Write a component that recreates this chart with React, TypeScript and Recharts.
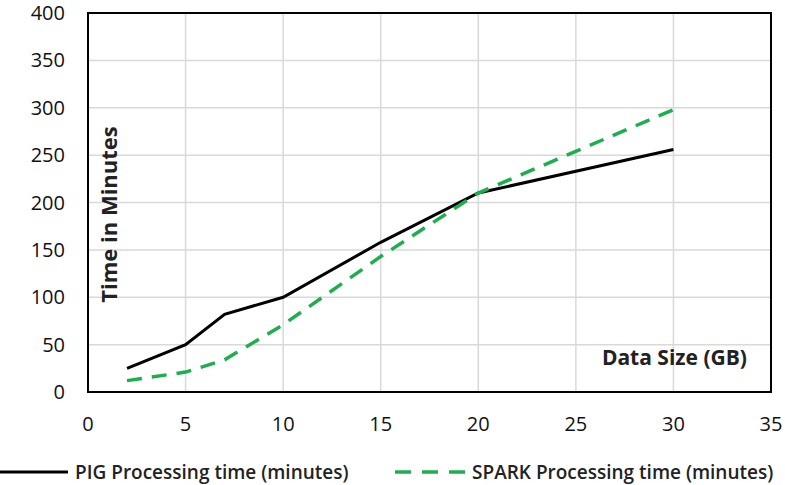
import React from "react";
import {
  LineChart,
  Line,
  XAxis,
  YAxis,
  CartesianGrid,
  ReferenceArea,
  Label,
  Legend,
} from "recharts";

const dataSize = [2, 5, 7, 10, 15, 20, 30];
const pigMinutes = [25, 50, 82, 100, 158, 210, 256];
const sparkMinutes = [12, 21, 34, 71, 143, 210, 298];
const xTicks = [0, 5, 10, 15, 20, 25, 30, 35];
const yTicks = [0, 50, 100, 150, 200, 250, 300, 350, 400];

const data = dataSize.map((size, i) => ({
  size,
  pig: pigMinutes[i],
  spark: sparkMinutes[i],
}));

const FONT = "'Open Sans', sans-serif";
const GREEN = "#1fae4f";

function YTitle({ viewBox }: any) {
  const cx = viewBox.x + 20;
  const cy = viewBox.y + viewBox.height / 2 + 12;
  return (
    <text
      x={cx}
      y={cy}
      transform={`rotate(-90 ${cx} ${cy})`}
      textAnchor="middle"
      dominantBaseline="central"
      fontFamily={FONT}
      fontWeight={700}
      fontSize={22}
      fill="#222"
    >
      Time in Minutes
    </text>
  );
}

function LegendBox() {
  const text = { fontFamily: FONT, fontSize: 19, fontWeight: 600, color: "#222" };
  return (
    <div style={{ position: "relative", height: 28 }}>
      <div style={{ position: "absolute", left: 0, top: 0, display: "flex", alignItems: "center" }}>
        <svg width={70} height={28}>
          <line x1={0} y1={14} x2={68} y2={14} stroke="#000" strokeWidth={3} />
        </svg>
        <span style={{ ...text, marginLeft: 5 }}>PIG Processing time (minutes)</span>
      </div>
      <div style={{ position: "absolute", left: 395, top: 0, display: "flex", alignItems: "center" }}>
        <svg width={76} height={28}>
          <line x1={0} y1={14} x2={76} y2={14} stroke={GREEN} strokeWidth={3.5} strokeDasharray="16 11" />
        </svg>
        <span style={{ ...text, marginLeft: 1 }}>SPARK Processing time (minutes)</span>
      </div>
    </div>
  );
}

export default function App() {
  return (
    <div style={{ position: "absolute", left: 0, top: 0, background: "#fff" }}>
      <LineChart
        width={785}
        height={485}
        data={data}
        margin={{ top: 13, right: 14, bottom: 53, left: 0 }}
      >
        <CartesianGrid stroke="#d9d9d9" strokeWidth={1.5} />
        <XAxis
          dataKey="size"
          type="number"
          domain={[0, 35]}
          ticks={xTicks}
          height={40}
          axisLine={false}
          tickLine={false}
          tickSize={0}
          tickMargin={25}
          tick={{ fill: "#111", fontSize: 20, fontWeight: 500, fontFamily: FONT }}
        />
        <YAxis
          type="number"
          domain={[0, 400]}
          ticks={yTicks}
          width={88}
          axisLine={false}
          tickLine={false}
          tickSize={0}
          tickMargin={23}
          tick={{ fill: "#111", fontSize: 20, fontWeight: 500, fontFamily: FONT }}
        />
        <Line
          type="linear"
          dataKey="pig"
          stroke="#000"
          strokeWidth={3}
          dot={false}
          isAnimationActive={false}
        />
        <Line
          type="linear"
          dataKey="spark"
          stroke={GREEN}
          strokeWidth={3.5}
          strokeDasharray="15 10"
          dot={false}
          isAnimationActive={false}
        />
        <ReferenceArea
          x1={0}
          x2={35}
          y1={0}
          y2={400}
          fill="none"
          fillOpacity={0}
          stroke="#000"
          strokeWidth={2}
        >
          <Label content={<YTitle />} />
          <Label
            value="Data Size (GB)"
            position="insideBottomRight"
            offset={24}
            dy={-3}
            fill="#222"
            fontFamily={FONT}
            fontWeight={700}
            fontSize={21}
          />
        </ReferenceArea>
        <Legend
          layout="horizontal"
          verticalAlign="middle"
          align="center"
          content={<LegendBox />}
          wrapperStyle={{ position: "absolute", left: 0, top: 458, width: 785 }}
        />
      </LineChart>
    </div>
  );
}
